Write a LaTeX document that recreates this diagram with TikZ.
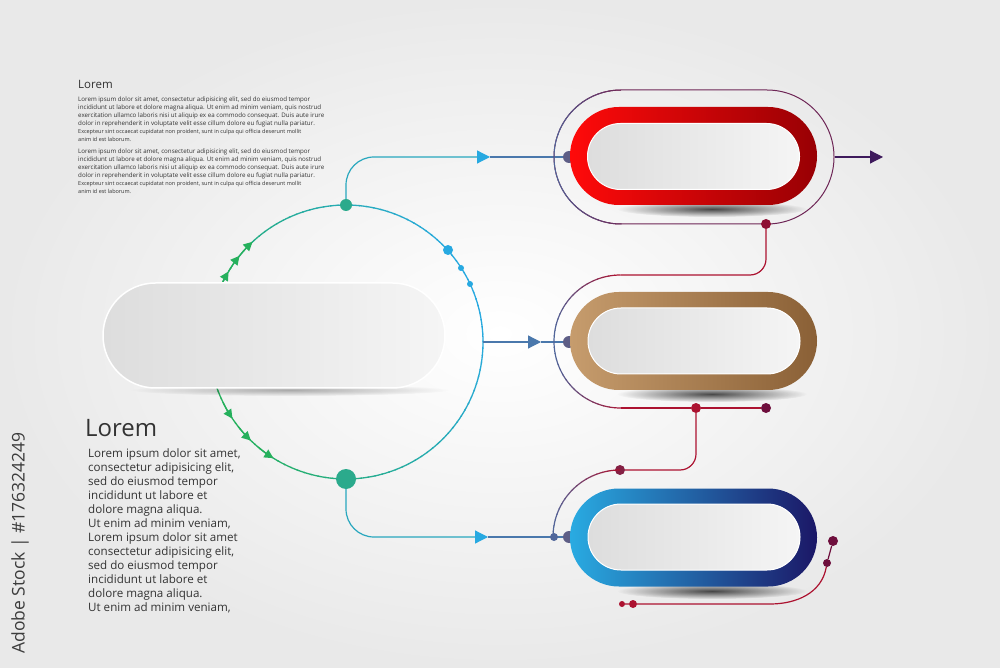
\documentclass[tikz,border=0pt]{standalone}
\usepackage{fontspec}
\setmainfont{Open Sans}
\usetikzlibrary{arrows.meta,fadings,shapes.misc}

\definecolor{bgedge}{HTML}{E9E9E9}
\definecolor{ringgreen}{HTML}{25B05C}
\definecolor{ringblue}{HTML}{27A9E1}
\definecolor{dotteal}{HTML}{2BAA8C}
\definecolor{tealline}{HTML}{28A7BE}
\definecolor{steelline}{HTML}{4A78AC}
\definecolor{jointgrey}{HTML}{5E5E86}
\definecolor{linegrey}{HTML}{50669A}
\definecolor{linered}{HTML}{AC1230}
\definecolor{jointred}{HTML}{8E1034}
\definecolor{jointwine}{HTML}{6E0E3C}
\definecolor{loopwine}{HTML}{6E2656}
\definecolor{exitpurple}{HTML}{3E1A5C}
\definecolor{redL}{HTML}{FF0A0A}
\definecolor{redR}{HTML}{980004}
\definecolor{brownL}{HTML}{C69C6D}
\definecolor{brownR}{HTML}{8A6036}
\definecolor{blueL}{HTML}{29ABE2}
\definecolor{blueR}{HTML}{1B1766}
\definecolor{holeL}{HTML}{DDDDDD}
\definecolor{holeM}{HTML}{F2F2F2}
\definecolor{holeR}{HTML}{F5F5F5}
\definecolor{textgrey}{HTML}{333333}
\definecolor{sidegrey}{HTML}{3C3C3C}

\tikzfading[name=shadowfade, inner color=transparent!0, outer color=transparent!100]

\tikzset{
  pill/.style={rounded rectangle, inner sep=0pt},
  hole/.style={pill, minimum width=212pt, minimum height=66pt, left color=holeL, middle color=holeM, right color=holeR, draw=white, line width=1pt},
  joint/.style={circle, inner sep=0pt, minimum size=#1},
  wire/.style={line width=1.2pt},
  tip/.style={-{Triangle[length=13pt,width=13pt,color=#1]}}
}

\begin{document}
\begin{tikzpicture}[x=1pt,y=1pt]
\useasboundingbox (0,0) rectangle (1000,667);
\shade[inner color=white, outer color=bgedge] (0,0) rectangle (1000,667);

\node[rotate=90, font=\fontsize{17.5}{17.5}\selectfont, text=sidegrey] (stamp) at (20,124) {Adobe Stock | \#176324249};

\node[anchor=base west, inner sep=0pt, font=\fontsize{11.5}{12}\selectfont, text=textgrey] (toptitle) at (78,578) {Lorem};
\node[anchor=north west, inner sep=0pt, align=left, font=\fontsize{6.2}{8}\selectfont, text=textgrey] (para1) at (78,570) {Lorem ipsum dolor sit amet, consectetur adipisicing elit, sed do eiusmod tempor\\
incididunt ut labore et dolore magna aliqua. Ut enim ad minim veniam, quis nostrud\\
exercitation ullamco laboris nisi ut aliquip ex ea commodo consequat. Duis aute irure\\
dolor in reprehenderit in voluptate velit esse cillum dolore eu fugiat nulla pariatur.};
\node[anchor=north west, inner sep=0pt, align=left, font=\fontsize{5.5}{8}\selectfont, text=textgrey] (note1) at (78,538) {Excepteur sint occaecat cupidatat non proident, sunt in culpa qui officia deserunt mollit\\
anim id est laborum.};
\node[anchor=north west, inner sep=0pt, align=left, font=\fontsize{6.2}{8}\selectfont, text=textgrey] (para2) at (78,518) {Lorem ipsum dolor sit amet, consectetur adipisicing elit, sed do eiusmod tempor\\
incididunt ut labore et dolore magna aliqua. Ut enim ad minim veniam, quis nostrud\\
exercitation ullamco laboris nisi ut aliquip ex ea commodo consequat. Duis aute irure\\
dolor in reprehenderit in voluptate velit esse cillum dolore eu fugiat nulla pariatur.};
\node[anchor=north west, inner sep=0pt, align=left, font=\fontsize{5.5}{8}\selectfont, text=textgrey] (note2) at (78,486) {Excepteur sint occaecat cupidatat non proident, sunt in culpa qui officia deserunt mollit\\
anim id est laborum.};

\node[anchor=base west, inner sep=0pt, font=\fontsize{24}{24}\selectfont, text=textgrey] (lowtitle) at (85,231) {Lorem};
\node[anchor=north west, inner sep=0pt, align=left, font=\fontsize{11.6}{14}\selectfont, text=textgrey] (lowpara) at (88,219) {Lorem ipsum dolor sit amet,\\
consectetur adipisicing elit,\\
sed do eiusmod tempor\\
incididunt ut labore et\\
dolore magna aliqua.\\
Ut enim ad minim veniam,\\
Lorem ipsum dolor sit amet\\
consectetur adipisicing elit,\\
sed do eiusmod tempor\\
incididunt ut labore et\\
dolore magna aliqua.\\
Ut enim ad minim veniam,};

\coordinate (hub) at (346,325);
\foreach \a in {0,3,...,357} {
  \pgfmathtruncatemacro\mix{50+50*cos(\a-20)}
  \draw[ringblue!\mix!ringgreen, line width=1.3pt] ([shift={(\a:137)}]hub) arc (\a:\a+3.6:137);
}
\foreach \a in {149,141,133}
  \draw[ringgreen, line width=1.3pt, -{Triangle[length=9pt,width=9pt]}] ([shift={(\a+8:137)}]hub) arc (\a+8:\a:137);
\foreach \a in {214,226,238}
  \draw[ringgreen, line width=1.3pt, -{Triangle[length=9pt,width=9pt]}] ([shift={(\a-8:137)}]hub) arc (\a-8:\a:137);

\coordinate (hubeast) at ([shift={(0:137)}]hub);
\coordinate (tarr) at (490,510);
\coordinate (marr) at (541,325);
\coordinate (barr) at (488,130);
\coordinate (outarr) at (883,510);
\coordinate (snaketop) at (620.5,392);
\coordinate (snakebot) at (620.5,259);
\coordinate (tailbend) at (770,63);

\node[joint=12pt, fill=dotteal] (topj) at (346,462) {};
\node[joint=20pt, fill=dotteal] (botj) at (346,188) {};
\node[joint=10pt, fill=ringblue] (bluej1) at (448,417) {};
\node[joint=6pt, fill=ringblue] (bluej2) at (461,399) {};
\node[joint=6pt, fill=ringblue] (bluej3) at (470,383) {};

\draw[wire, tealline, rounded corners=28pt, tip=ringblue] (topj) |- (tarr);
\draw[wire, steelline] (tarr) -- (569,510);
\draw[wire, steelline, tip=steelline] (hubeast) -- (marr);
\draw[wire, steelline] (marr) -- (569,325);
\draw[wire, tealline, rounded corners=28pt, tip=ringblue] (botj) |- (barr);
\draw[wire, steelline] (barr) -- (569,130);

\node[pill, draw=loopwine, line width=1pt, minimum width=280pt, minimum height=134pt] (redloop) at (694,510) {};
\foreach \a in {90,95,...,265} {
  \pgfmathtruncatemacro\mix{100-100*cos(\a-180)}
  \draw[loopwine!\mix!linegrey, line width=1pt] ([shift={(\a:67)}]621,510) arc (\a:\a+5.5:67);
}
\draw[wire, exitpurple, tip=exitpurple] (redloop.east) -- (outarr);

\node[joint=10pt, fill=jointred] (redout) at (766,443) {};
\node[joint=10pt, fill=linered] (brownmid) at (696,259) {};
\node[joint=10pt, fill=jointwine] (brownend) at (766,259) {};
\node[joint=10pt, fill=jointred!80!jointgrey] (bluetop) at (620,197) {};
\node[joint=8pt, fill=linegrey] (bluepre) at (554,130) {};

\draw[wire, linered, rounded corners=16pt] (redout) |- (snaketop);
\foreach \a in {90,95,...,265} {
  \pgfmathtruncatemacro\mix{100-100*cos(\a-180)}
  \draw[linered!\mix!linegrey, line width=1.2pt] ([shift={(\a:66.5)}]620.5,325.5) arc (\a:\a+5.5:66.5);
}
\draw[wire, linered] (snakebot) -- (brownmid) -- (brownend);
\draw[wire, linered, rounded corners=16pt] (brownmid) |- (bluetop);
\foreach \a in {90,95,...,175} {
  \pgfmathtruncatemacro\mix{100-100*cos(\a-180)}
  \draw[linered!\mix!linegrey, line width=1.2pt] ([shift={(\a:67)}]620,130) arc (\a:\a+5.5:67);
}

\node[joint=10pt, fill=jointwine] (tailA) at (833,126) {};
\node[joint=8pt, fill=jointwine] (tailB) at (827,104) {};
\node[joint=8pt, fill=linered] (tailC) at (633,63) {};
\node[joint=6pt, fill=linered] (tailD) at (622,63) {};
\draw[wire, jointwine] (tailA) -- (tailB);
\draw[wire, linered] (tailB) to[out=-100,in=0] (tailbend) -- (tailC) -- (tailD);

\node[joint=12pt, fill=jointgrey] (redin) at (569,510) {};
\node[joint=12pt, fill=jointgrey] (brownin) at (569,325) {};
\node[joint=12pt, fill=jointgrey] (bluein) at (569,130) {};

\fill[black, opacity=0.3, path fading=shadowfade] (290,277) ellipse (160 and 6);
\fill[black, opacity=0.7, path fading=shadowfade] (712,458) ellipse (95 and 8);
\fill[black, opacity=0.7, path fading=shadowfade] (712,273) ellipse (95 and 8);
\fill[black, opacity=0.7, path fading=shadowfade] (712,76) ellipse (95 and 8);

\node[pill, minimum width=342pt, minimum height=105pt, left color=holeL, middle color=holeM, right color=holeR, draw=white, line width=1.5pt] (hubcard) at (274,331.5) {};

\node[pill, minimum width=247pt, minimum height=98pt, left color=redL, right color=redR] (redring) at (693.5,511) {};
\node[hole] (redhole) at (693.5,510.5) {};
\node[pill, minimum width=247pt, minimum height=98pt, left color=brownL, right color=brownR] (brownring) at (693.5,326) {};
\node[hole] (brownhole) at (694,326) {};
\node[pill, minimum width=247pt, minimum height=98pt, left color=blueL, right color=blueR] (bluering) at (693.5,129.5) {};
\node[hole] (bluehole) at (694,130) {};
\end{tikzpicture}
\end{document}
